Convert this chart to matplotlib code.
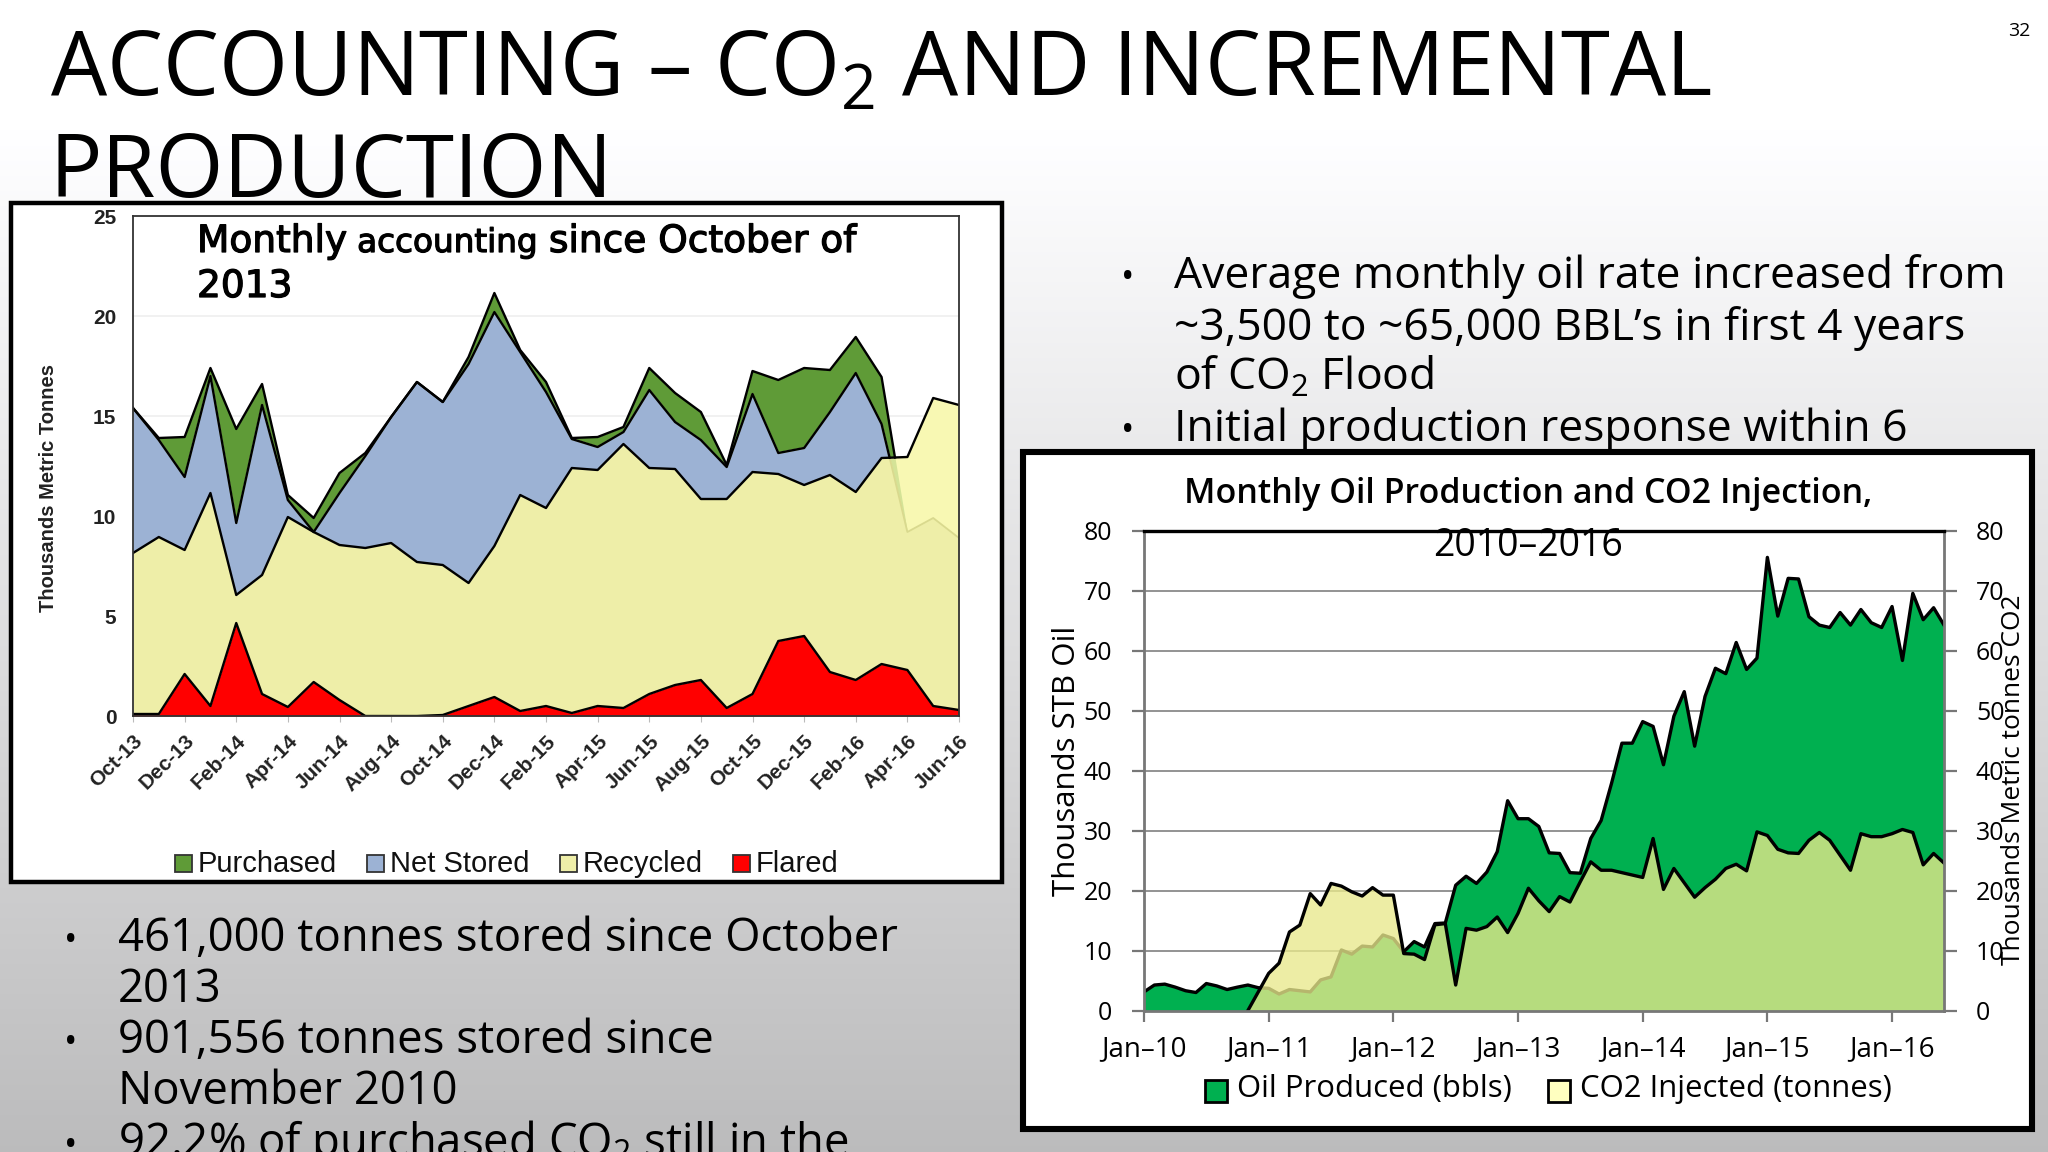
import numpy as np
import matplotlib
matplotlib.use("Agg")
import matplotlib.pyplot as plt
from matplotlib.patches import Rectangle
import matplotlib.patheffects as pe

plt.rcParams['font.family'] = ['Open Sans', 'DejaVu Sans']
plt.rcParams['mathtext.fontset'] = 'custom'
plt.rcParams['mathtext.rm'] = 'Open Sans'
plt.rcParams['mathtext.it'] = 'Open Sans:italic'
plt.rcParams['mathtext.bf'] = 'Open Sans:bold'

NA = np.nan
W, H = 2048, 1152

# ---------------- Left chart data (thousand metric tonnes, Oct-13 .. Jun-16) ----------------
acct_tick_labels = ['Oct-13', 'Dec-13', 'Feb-14', 'Apr-14', 'Jun-14', 'Aug-14', 'Oct-14',
                    'Dec-14', 'Feb-15', 'Apr-15', 'Jun-15', 'Aug-15', 'Oct-15', 'Dec-15',
                    'Feb-16', 'Apr-16', 'Jun-16']
purchased = [0.0, 0.1, 2.0, 0.4, 4.7, 1.05, 0.25, 0.7, 1.0, 0.15, 0.0, 0.0, 0.0, 0.35, 0.95,
             0.1, 0.5, 0.05, 0.5, 0.25, 1.1, 1.45, 1.4, 0.1, 1.15, 3.65, 4.0, 2.1, 1.8, 2.35,
             0.0, 0.0, 0.0]
net_stored = [7.25, 4.85, 3.65, 5.85, 3.6, 8.5, 0.85, 0.0, 2.6, 4.6, 6.3, 9.0, 8.15, 10.95,
              11.7, 7.15, 5.8, 1.45, 1.15, 0.6, 3.9, 2.35, 2.95, 1.6, 3.9, 1.05, 1.85, 3.15,
              5.95, 1.7, -3.75, -6.0, -6.65]
recycled = [8.05, 8.85, 6.2, 10.65, 1.4, 5.95, 9.5, 7.5, 7.75, 8.4, 8.65, 7.7, 7.5, 6.15, 7.55,
            10.8, 9.9, 12.25, 11.8, 13.2, 11.3, 10.8, 9.05, 10.45, 11.1, 8.35, 7.55, 9.85, 9.4,
            10.3, 10.65, 15.4, 15.25]
flared = [0.1, 0.1, 2.1, 0.5, 4.65, 1.1, 0.45, 1.7, 0.8, 0.0, 0.0, 0.0, 0.05, 0.5, 0.95, 0.25,
          0.5, 0.15, 0.5, 0.4, 1.1, 1.55, 1.8, 0.4, 1.1, 3.75, 4.0, 2.2, 1.8, 2.6, 2.3, 0.5, 0.3]
acct_series = ['Purchased', 'Net Stored', 'Recycled', 'Flared']
acct_yticks = [0, 5, 10, 15, 20, 25]

# ---------------- Right chart data (thousands, Jan-10 .. Jun-16) ----------------
prod_tick_labels = ['Jan\u201310', 'Jan\u201311', 'Jan\u201312', 'Jan\u201313',
                    'Jan\u201314', 'Jan\u201315', 'Jan\u201316']
oil_produced = [3.1, 4.25, 4.4, 3.9, 3.3, 3.0, 4.5, 4.1, 3.5, 3.9,
                4.25, 3.8, 3.7, 2.75, 3.5, 3.3, 3.1, 5.1, 5.6, 10.1,
                9.4, 10.75, 10.6, 12.6, 12.0, 9.8, 11.5, 10.6, 14.5, 14.6,
                20.9, 22.4, 21.2, 23.1, 26.5, 35.0, 32.0, 32.0, 30.7, 26.3,
                26.2, 23.0, 22.9, 28.7, 31.7, 37.9, 44.6, 44.6, 48.2, 47.4,
                41.0, 49.1, 53.2, 44.1, 52.4, 57.1, 56.2, 61.4, 56.9, 58.8,
                75.6, 65.8, 72.1, 72.0, 65.7, 64.3, 63.9, 66.4, 64.3, 66.9,
                64.7, 63.9, 67.4, 58.4, 69.6, 65.2, 67.2, 64.3]
co2_injected = [NA, NA, NA, NA, NA, NA, NA, NA, NA, NA,
                0.0, 3.1, 6.2, 7.9, 13.1, 14.25, 19.5, 17.6, 21.2, 20.75,
                19.8, 19.1, 20.5, 19.25, 19.25, 9.5, 9.4, 8.5, 14.3, 14.5,
                4.25, 13.7, 13.4, 14.0, 15.6, 13.0, 16.2, 20.4, 18.3, 16.5,
                19.0, 18.1, 21.5, 24.8, 23.4, 23.4, 23.0, 22.6, 22.2, 28.7,
                20.2, 23.7, 21.3, 18.9, 20.5, 21.9, 23.7, 24.4, 23.3, 29.8,
                29.2, 26.9, 26.3, 26.2, 28.4, 29.7, 28.4, 25.9, 23.4, 29.5,
                29.0, 29.0, 29.5, 30.2, 29.7, 24.3, 26.2, 24.6]
prod_series = ['Oil Produced (bbls)', 'CO2 Injected (tonnes)']
prod_yticks = [0, 10, 20, 30, 40, 50, 60, 70, 80]

# ---------------- styles ----------------
C_PURCH = '#5f9b37'
C_NET = '#9cb2d4'
C_REC = '#eeeea8'
C_PALE = '#fcfcb8'
C_FLARE = '#ff0000'
C_OIL = '#00b050'
C_CO2 = (233 / 255, 233 / 255, 140 / 255)
ARIAL = ['Liberation Sans', 'DejaVu Sans']
VERD = ['DejaVu Sans']


def fx(px):
    return px / W


def fy(py):
    return 1 - py / H


def split_above(x, a, b):
    xs, ys = [], []
    for i in range(len(x)):
        if i > 0:
            d0 = a[i - 1] - b[i - 1]
            d1 = a[i] - b[i]
            if d0 * d1 < 0:
                t = d0 / (d0 - d1)
                xs.append(x[i - 1] + t * (x[i] - x[i - 1]))
                ys.append(a[i - 1] + t * (a[i] - a[i - 1]))
        xs.append(x[i])
        ys.append(a[i] if a[i] - b[i] >= -1e-9 else np.nan)
    return np.array(xs), np.array(ys)


fig = plt.figure(figsize=(W / 100, H / 100), dpi=100)

# background gradient
bg = fig.add_axes([0, 0, 1, 1], zorder=-10)
rows = np.arange(H)
v = np.clip(255 - 0.066 * (rows - 130), 186, 255) / 255.0
grad = np.dstack([v, v, v * 1.005]).reshape(H, 1, 3).clip(0, 1)
bg.imshow(grad, aspect='auto', extent=[0, 1, 0, 1], interpolation='bilinear')
bg.set_axis_off()

# slide title
fig.text(fx(50), fy(96), 'ACCOUNTING \u2013 CO$_2$ AND INCREMENTAL', fontsize=64,
         va='baseline', ha='left', color='black')
fig.text(fx(50), fy(197), 'PRODUCTION', fontsize=63, va='baseline', ha='left')
fig.text(fx(2019), fy(36), '32', fontsize=14, ha='center', va='baseline')

# bullets top right
bfs = 32
fig.text(fx(1121), fy(288), '\u2022', fontsize=bfs * 0.8, va='baseline')
fig.text(fx(1174), fy(288), 'Average monthly oil rate increased from', fontsize=bfs, va='baseline')
fig.text(fx(1174), fy(340), '~3,500 to ~65,000 BBL\u2019s in first 4 years', fontsize=bfs, va='baseline')
fig.text(fx(1174), fy(390), 'of CO$_2$ Flood', fontsize=bfs, va='baseline')
fig.text(fx(1121), fy(441), '\u2022', fontsize=bfs * 0.8, va='baseline', zorder=-6)
fig.text(fx(1174), fy(441), 'Initial production response within 6', fontsize=bfs,
         va='baseline', zorder=-6)

# bullets bottom left
bfs2 = 32.8
fig.text(fx(64), fy(951), '\u2022', fontsize=bfs * 0.8, va='baseline')
fig.text(fx(118), fy(951), '461,000 tonnes stored since October', fontsize=bfs2, va='baseline')
fig.text(fx(118), fy(1002), '2013', fontsize=bfs2, va='baseline')
fig.text(fx(64), fy(1053), '\u2022', fontsize=bfs * 0.8, va='baseline')
fig.text(fx(118), fy(1053), '901,556 tonnes stored since', fontsize=bfs2, va='baseline')
fig.text(fx(118), fy(1104), 'November 2010', fontsize=bfs2, va='baseline')
fig.text(fx(64), fy(1156), '\u2022', fontsize=bfs * 0.8, va='baseline')
fig.text(fx(118), fy(1156), '92.2% of purchased CO$_2$ still in the', fontsize=bfs2, va='baseline')

# panel boxes
fig.add_artist(Rectangle((fx(11), fy(882)), (1002 - 11) / W, (882 - 203) / H,
                         transform=fig.transFigure, facecolor='white', edgecolor='black',
                         lw=3.2, zorder=-5))
fig.add_artist(Rectangle((fx(1023), fy(1129)), (2032 - 1023) / W, (1129 - 452) / H,
                         transform=fig.transFigure, facecolor='white', edgecolor='black',
                         lw=4.4, zorder=-5))

# ================= LEFT CHART =================
axL = fig.add_axes([fx(133), fy(716), (959 - 133) / W, (716 - 216) / H])
x = np.arange(len(flared), dtype=float)
f = np.array(flared)
c1 = f
c2 = c1 + np.array(recycled)
c3 = c2 + np.array(net_stored)
c4 = c3 + np.array(purchased)

axL.fill_between(x, 0, c1, color=C_FLARE, lw=0, zorder=2)
axL.fill_between(x, c1, c2, color=C_REC, lw=0, zorder=2)
axL.fill_between(x, c2, c3, where=c3 >= c2, interpolate=True, color=C_NET, lw=0, zorder=2)
axL.fill_between(x, c3, c2, where=c3 <= c2, interpolate=True, color=C_PALE, alpha=0.75,
                 lw=0, zorder=3)
axL.fill_between(x, c3, c4, color=C_PURCH, lw=0, zorder=2)
axL.plot(x, c3, color='#d9d98e', lw=1.3, zorder=4)
axL.plot(x, c1, color='black', lw=1.7, zorder=5)
axL.plot(x, c2, color='black', lw=1.7, zorder=5)
xs3, ys3 = split_above(x, c3, c2)
xs4, ys4 = split_above(x, c4, c2)
axL.plot(xs3, ys3, color='black', lw=1.7, zorder=5)
axL.plot(xs4, ys4, color='black', lw=1.7, zorder=5)

axL.set_xlim(0, len(flared) - 1)
axL.set_ylim(0, 25)
axL.set_xticks(x[::2], acct_tick_labels, fontsize=15, fontweight='bold', family=ARIAL,
               rotation=45, ha='right', rotation_mode='anchor', color='#222222')
axL.set_yticks(acct_yticks, [str(t) for t in acct_yticks], fontsize=15, fontweight='bold',
               family=ARIAL, color='#222222')
axL.tick_params(axis='x', length=4, color='#bbbbbb', pad=7)
axL.tick_params(axis='y', length=0, pad=12)
axL.yaxis.grid(True, color='#efefef', lw=1.2, zorder=0)
axL.set_axisbelow(True)
for s in axL.spines.values():
    s.set_color('#333333')
    s.set_linewidth(1.3)
    s.set_zorder(6)
axL.text(-0.102, 0.456, 'Thousands Metric Tonnes', transform=axL.transAxes, rotation=90,
         ha='center', va='center', fontsize=14.5, fontweight='bold', family=ARIAL,
         color='#222222')

# left chart title (mixed sizes)
fig.canvas.draw()
rend = fig.canvas.get_renderer()
bold_fx = [pe.withStroke(linewidth=0.9, foreground='black')]
t1 = fig.text(fx(197), fy(252), 'Monthly', fontsize=27, family=VERD, va='baseline',
              path_effects=bold_fx)
bb = t1.get_window_extent(rend)
t2 = fig.text(bb.x1 / W, fy(252), ' accounting', fontsize=23.5, family=VERD, va='baseline',
              path_effects=bold_fx)
bb = t2.get_window_extent(rend)
fig.text(bb.x1 / W, fy(252), ' since October of', fontsize=27, family=VERD, va='baseline',
         path_effects=bold_fx)
fig.text(fx(197), fy(297), '2013', fontsize=27, family=VERD, va='baseline',
         path_effects=bold_fx)

# left legend
leg_x = [175, 367, 560, 733]
leg_cols = [C_PURCH, C_NET, C_REC, C_FLARE]
for lx, col, name in zip(leg_x, leg_cols, acct_series):
    fig.add_artist(Rectangle((fx(lx), fy(872)), 17 / W, 17 / H, transform=fig.transFigure,
                             facecolor=col, edgecolor='#333333', lw=1.3))
    fig.text(fx(lx + 23), fy(872), name, fontsize=21, family=ARIAL, va='baseline',
             color='#111111')

# ================= RIGHT CHART =================
axR = fig.add_axes([fx(1144), fy(1010.5), 800 / W, 479.5 / H])
xm = np.arange(len(oil_produced), dtype=float)
oil = np.array(oil_produced)
co2 = np.array(co2_injected)
axR.fill_between(xm, 0, oil, color=C_OIL, lw=0, zorder=2)
axR.plot(xm, oil, color='black', lw=2.4, zorder=3)
axR.fill_between(xm, 0, co2, color=C_CO2, alpha=0.785, lw=0, zorder=4)
axR.plot(xm, co2, color='black', lw=2.4, zorder=5)

axR.set_xlim(0, len(oil_produced) - 1)
axR.set_ylim(0, 80)
axR.set_xticks(np.arange(len(prod_tick_labels)) * 12, prod_tick_labels, fontsize=20)
axR.set_yticks(prod_yticks)
axR.tick_params(axis='y', left=True, right=True, labelleft=True, labelright=True,
                labelsize=18, length=9, width=1.6, color='#777777', pad=14, direction='out')
axR.tick_params(axis='x', length=8, width=1.6, color='#777777', pad=10, direction='out')
axR.yaxis.grid(True, color='#8a8a8a', lw=1.3, zorder=1)
axR.set_axisbelow(True)
for side in ['left', 'right', 'bottom']:
    axR.spines[side].set_color('#777777')
    axR.spines[side].set_linewidth(2.0)
    axR.spines[side].set_zorder(6)
axR.spines['top'].set_color('black')
axR.spines['top'].set_linewidth(2.4)
axR.spines['top'].set_zorder(6)

fig.text(fx(1528), fy(503), 'Monthly Oil Production and CO2 Injection,', fontsize=24.5,
         fontweight='semibold', ha='center', va='baseline')
fig.text(fx(1528), fy(556), '2010\u20132016', fontsize=27, ha='center', va='baseline',
         zorder=10)
fig.text(fx(1067), fy(761), 'Thousands STB Oil', fontsize=22.5, rotation=90, ha='center',
         va='center')
fig.text(fx(2013), fy(780), 'Thousands Metric tonnes CO2', fontsize=19, rotation=90,
         ha='center', va='center')

# right legend
fig.add_artist(Rectangle((fx(1205), fy(1102)), 22 / W, 22 / H, transform=fig.transFigure,
                         facecolor=C_OIL, edgecolor='black', lw=2))
fig.text(fx(1237), fy(1097), prod_series[0], fontsize=22.4, va='baseline')
fig.add_artist(Rectangle((fx(1548), fy(1102)), 22 / W, 22 / H, transform=fig.transFigure,
                         facecolor='#ffffc0', edgecolor='black', lw=2))
fig.text(fx(1580), fy(1097), prod_series[1], fontsize=22.4, va='baseline')

fig.savefig('out.png', dpi=100)
